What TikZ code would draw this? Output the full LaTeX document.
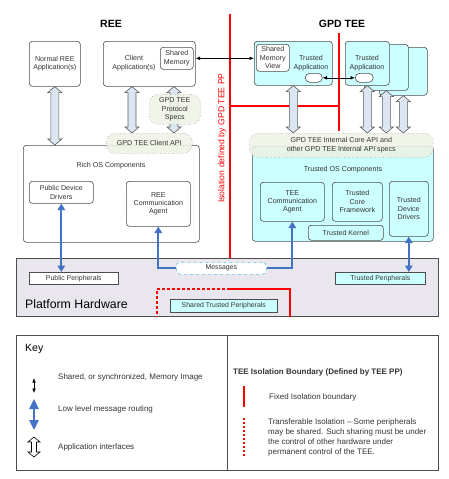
\documentclass[tikz,border=0pt]{standalone}
\usepackage{fontspec}
\setmainfont{Liberation Sans}
\usetikzlibrary{arrows.meta,calc}
\definecolor{tcyan}{HTML}{CCFFFF}
\definecolor{boxline}{HTML}{4D4D4D}
\definecolor{txtgray}{HTML}{333333}
\definecolor{cloudfill}{HTML}{EEF2E4}
\definecolor{cloudline}{HTML}{9A9A9A}
\definecolor{hwfill}{HTML}{E9E6EE}
\definecolor{msgblue}{HTML}{4472C4}
\definecolor{msgdash}{HTML}{5BC0EB}
\definecolor{apfill}{HTML}{DCE6F2}
\definecolor{apline}{HTML}{595959}
\definecolor{isored}{HTML}{FF0000}
\newcommand\hollowarr[6]{%
 \draw[#1] let \p1=#2, \p2=#3 in
 (\x1,\y1) -- (\x1+#5,\y1-#6) -- (\x1+#4,\y1-#6) -- (\x1+#4,\y2+#6) -- (\x1+#5,\y2+#6) -- (\x1,\y2)
 -- (\x1-#5,\y2+#6) -- (\x1-#4,\y2+#6) -- (\x1-#4,\y1-#6) -- (\x1-#5,\y1-#6) -- cycle;}
\begin{document}
\begin{tikzpicture}[x=1pt,y=-1pt]
\tikzset{
 base/.style={font=\fontsize{7.1}{8.4}\selectfont, text=txtgray, align=center, inner sep=0pt},
 wbox/.style={base, draw=boxline, fill=white, rounded corners=3pt, line width=0.6pt, anchor=north west},
 cbox/.style={wbox, fill=tcyan},
 apicloud/.style={base, draw=cloudline, dotted, line width=0.6pt, fill=cloudfill, fill opacity=0.85, text opacity=1, rounded corners=9pt, anchor=north west},
 perbox/.style={base, draw=boxline, fill=white, line width=0.6pt, anchor=north west, font=\fontsize{6.9}{8}\selectfont},
 title/.style={font=\bfseries\fontsize{10.5}{12}\selectfont, text=black},
 lbl/.style={base},
 keytxt/.style={font=\fontsize{8}{10}\selectfont, text=txtgray, anchor=west, inner sep=0pt},
 btip/.tip={Triangle[length=6.5pt,width=7.5pt]},
 ktip/.tip={Latex[length=4.5pt,width=3.6pt]},
 lowroute/.style={draw=msgblue, line width=2pt},
 memline/.style={draw=black, line width=0.6pt, ktip-ktip},
 appif/.style={draw=apline, fill=apfill, line width=0.6pt},
 isol/.style={draw=isored, line width=1.9pt},
 isold/.style={isol, dash pattern=on 3pt off 2pt},
}
\useasboundingbox (0,0) rectangle (449,479);

% titles
\node[title] (reet) at (111,24) {REE};
\node[title] (teet) at (342,24) {GPD TEE};

% isolation lines
\draw[isol] (230,14) -- (230,289);
\draw[isol] (230,106) -- (339,106);
\draw[isol] (339,33) -- (339,131);
\node[rotate=90, text=isored, font=\fontsize{8.7}{10}\selectfont, inner sep=0pt] (isolab) at (222,138) {Isolation defined by GPD TEE PP};

% REE applications
\node[wbox, minimum width=51pt, minimum height=45pt] (normal) at (29,41) {Normal REE\\Application(s)};
\node[wbox, minimum width=92pt, minimum height=45pt] (client) at (103,41) {};
\node[lbl] (clienttxt) at (134,63) {Client\\Application(s)};
\node[wbox, minimum width=33pt, minimum height=22pt] (shmem) at (160,47) {Shared\\Memory};

% TEE applications
\node[cbox, minimum width=48pt, minimum height=48pt] (taback2) at (379,47) {};
\node[cbox, minimum width=44pt, minimum height=46pt] (taback1) at (364,44) {};
\node[cbox, minimum width=44pt, minimum height=44pt] (tafront) at (345,41) {};
\node[lbl] (tafronttxt) at (367,63) {Trusted\\Application};
\node[wbox, minimum width=18pt, minimum height=9pt, rounded corners=4.5pt] (pill2) at (355,73) {};
\node[cbox, minimum width=78pt, minimum height=44pt] (ta1) at (254,41) {};
\node[lbl] (ta1txt) at (311,63) {Trusted\\Application};
\node[wbox, minimum width=33pt, minimum height=27pt] (smv) at (256,44) {Shared\\Memory\\View};
\node[wbox, minimum width=17pt, minimum height=9pt, rounded corners=4.5pt] (pill1) at (305,73) {};

\draw[memline] (client.east |- shmem.east) -- (ta1.west |- shmem.east);
\draw[memline] (pill1.east) -- (pill2.west);

% Rich OS
\node[wbox, minimum width=176pt, minimum height=97pt] (richos) at (23,145) {};
\node[lbl] (richostxt) at (111,166) {Rich OS Components};
\node[wbox, minimum width=64pt, minimum height=22pt] (pubdrv) at (29,181) {Public Device\\Drivers};
\node[wbox, minimum width=64pt, minimum height=45pt] (reeagent) at (126,181) {REE\\Communication\\Agent};

% Trusted OS
\node[cbox, minimum width=181pt, minimum height=95pt] (trustedos) at (252,146) {};
\node[lbl] (trustedostxt) at (343,170) {Trusted OS Components};
\node[cbox, minimum width=64pt, minimum height=39pt] (teeagent) at (260,182) {TEE\\Communication\\Agent};
\node[cbox, minimum width=50pt, minimum height=39pt] (tcf) at (332,182) {Trusted\\Core\\Framework};
\node[cbox, minimum width=75pt, minimum height=15pt] (tkernel) at (308,225) {Trusted Kernel};
\node[cbox, minimum width=39pt, minimum height=55pt] (tdd) at (389,181) {Trusted\\Device\\Drivers};

% application interface arrows
\hollowarr{appif}{(normal.south)}{(richos.north)}{4pt}{7pt}{6pt}
\hollowarr{appif}{($(client.south west)+(29,0)$)}{(106,133)}{4pt}{7pt}{6pt}
\hollowarr{appif}{($(client.south west)+(71,0)$)}{(106,133)}{4pt}{7pt}{6pt}
\hollowarr{appif}{(ta1.south)}{(ta1.south |- 0,133)}{4pt}{7pt}{6pt}
\hollowarr{appif}{(tafront.south)}{(tafront.south |- 0,133)}{4pt}{7pt}{6pt}
\hollowarr{appif}{(taback1.south)}{(taback1.south |- 0,133)}{4pt}{7pt}{6pt}
\hollowarr{appif}{(taback2.south)}{(taback2.south |- 0,133)}{4pt}{7pt}{6pt}

% API clouds
\node[apicloud, minimum width=51pt, minimum height=30pt] (protocol) at (149,94) {GPD TEE\\Protocol\\Specs};
\node[apicloud, minimum width=86pt, minimum height=20pt] (clientapi) at (106,133) {GPD TEE Client API};
\node[apicloud, minimum width=184pt, minimum height=24pt] (coreapi) at (249,133) {GPD TEE Internal Core API and\\other GPD TEE Internal API specs};

% Platform hardware
\node[draw=boxline, fill=hwfill, line width=0.6pt, minimum width=422pt, minimum height=58pt, anchor=north west, inner sep=0pt] (hw) at (16,258) {};
\node[font=\fontsize{12.3}{14}\selectfont, text=black, anchor=west, inner sep=0pt] (hwtxt) at (25,304) {Platform Hardware};
\node[perbox, minimum width=89pt, minimum height=12pt] (pubper) at (29,272) {Public Peripherals};
\node[perbox, fill=tcyan, minimum width=90pt, minimum height=12pt] (tper) at (335,272) {Trusted Peripherals};
\node[perbox, fill=tcyan, minimum width=107pt, minimum height=13pt] (shper) at (170,299) {Shared Trusted Peripherals};

\draw[isol] (230,289) -- (290,289) -- (290,317);
\draw[isold] (230,289) -- (157,289) -- (157,317);

% low level routing
\draw[lowroute, btip-btip] (pubdrv.south) -- (pubdrv.south |- pubper.north);
\draw[lowroute, btip-btip] (tdd.south) -- (tdd.south |- tper.north);
\node[perbox, draw=msgdash, dashed, rounded corners=4pt, minimum width=90pt, minimum height=12pt] (msg) at (176,262) {Messages};
\draw[lowroute, btip-] (reeagent.south) |- (msg.west);
\draw[lowroute, -btip] (msg.east) -| (teeagent.south);

% key
\node[draw=boxline, line width=0.6pt, minimum width=422pt, minimum height=135pt, anchor=north west, inner sep=0pt] (keybox) at (16,335) {};
\draw[boxline, line width=0.6pt] (keybox.north west -| 227,0) -- (keybox.south west -| 227,0);
\node[font=\fontsize{10.5}{12}\selectfont, text=black, anchor=west, inner sep=0pt] (keyt) at (25,349) {Key};
\coordinate (k1a) at (34,378); \coordinate (k1b) at (34,393);
\draw[memline] (k1a) -- (k1b);
\node[keytxt] (k1t) at (58,377) {Shared, or synchronized, Memory Image};
\coordinate (k2a) at (34,399); \coordinate (k2b) at (34,430);
\draw[lowroute, line width=2.4pt, {Triangle[length=10pt,width=9pt]}-{Triangle[length=10pt,width=9pt]}] (k2a) -- (k2b);
\node[keytxt] (k2t) at (58,409) {Low level message routing};
\hollowarr{draw=black, fill=white, line width=0.6pt}{(34,437)}{(34,457)}{2.5pt}{6pt}{5pt}
\node[keytxt] (k3t) at (58,447) {Application interfaces};

\node[keytxt, font=\bfseries\fontsize{8}{10}\selectfont] (k4t) at (233,372) {TEE Isolation Boundary (Defined by TEE PP)};
\coordinate (k5a) at (244,386); \coordinate (k5b) at (244,407);
\draw[isol, line width=1.6pt] (k5a) -- (k5b);
\node[keytxt] (k5t) at (269,397) {Fixed Isolation boundary};
\coordinate (k6a) at (244,418); \coordinate (k6b) at (244,457);
\draw[isol, line width=1.6pt, dash pattern=on 2pt off 2pt] (k6a) -- (k6b);
\node[keytxt, anchor=north west, align=left] (k6t) at (268,418) {Transferable Isolation -- Some peripherals\\may be shared. Such sharing must be under\\the control of other hardware under\\permanent control of the TEE.};
\end{tikzpicture}
\end{document}
